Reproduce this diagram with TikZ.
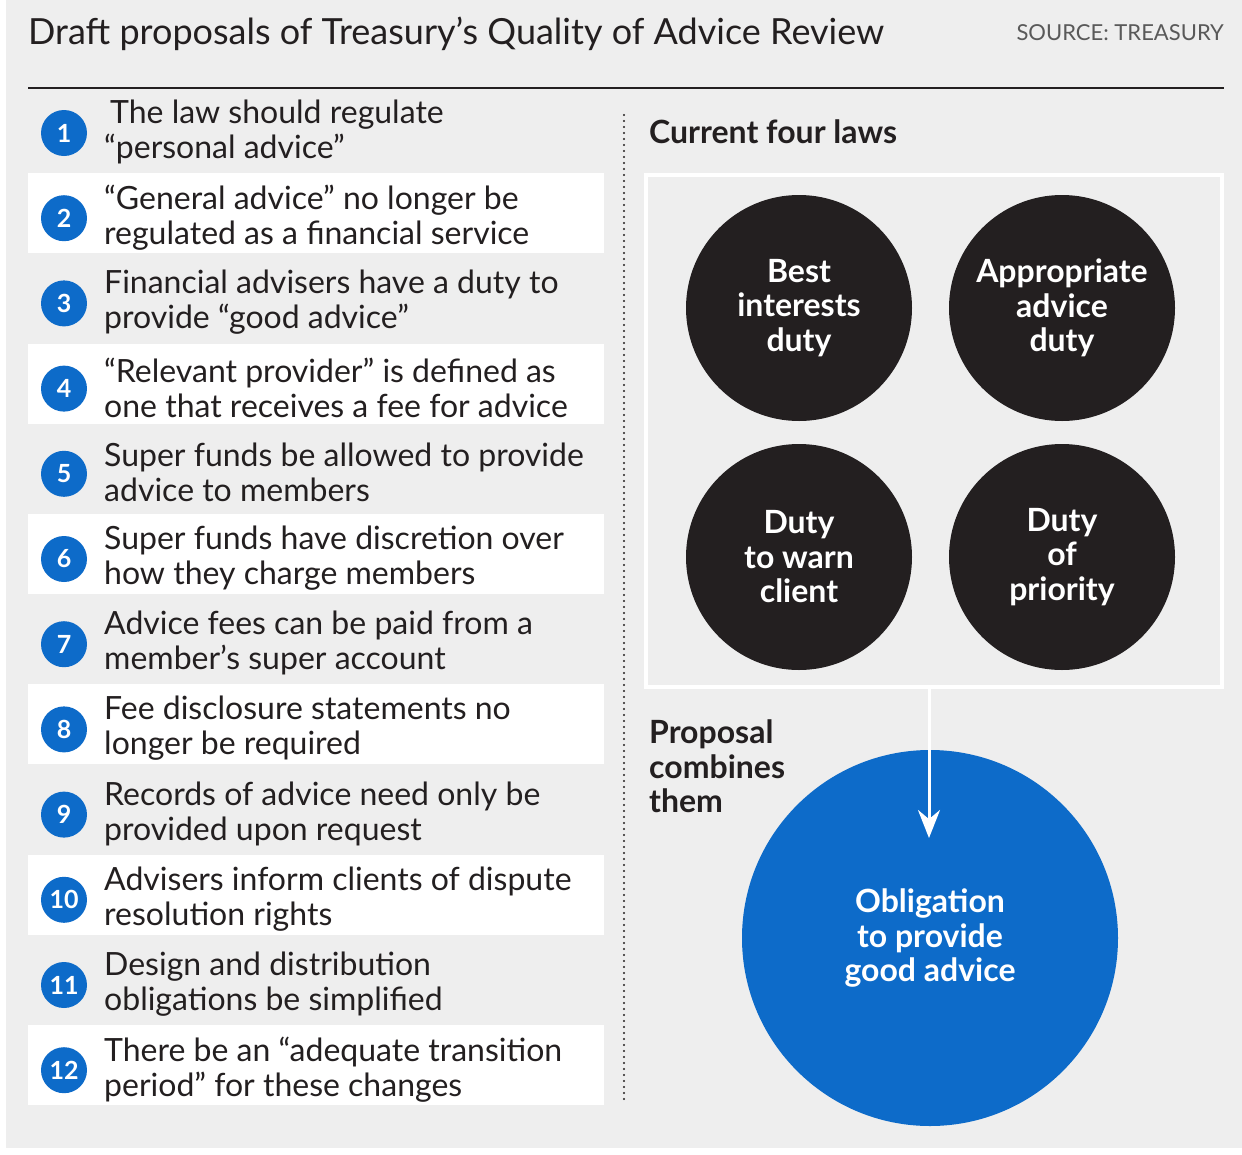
\documentclass[tikz,border=0pt]{standalone}
\usepackage{fontspec}
\setmainfont{Lato}
\usetikzlibrary{arrows.meta}
\definecolor{bg}{HTML}{EEEEEE}
\definecolor{blu}{HTML}{0D6BC9}
\definecolor{blk}{HTML}{231F20}
\tikzset{
 num/.style={circle,fill=blu,minimum size=46pt,inner sep=0pt,text=white,font=\fontsize{25}{25}\selectfont\bfseries},
 item/.style={anchor=west,align=left,inner sep=0pt,font=\fontsize{32}{35}\selectfont,text=blk},
 law/.style={circle,fill=blk,minimum size=226pt,inner sep=0pt,text=white,align=center,font=\fontsize{32}{34.5}\selectfont\bfseries},
 head/.style={anchor=west,align=left,inner sep=0pt,font=\fontsize{32}{34.5}\selectfont\bfseries,text=blk},
}
\begin{document}
\begin{tikzpicture}[x=1pt,y=-1pt]
\useasboundingbox (0,0) rectangle (1242,1154);
\fill[white] (0,0) rectangle (1242,1154);
\fill[bg] (6,0) rectangle (1242,1148);
\node[anchor=west,inner sep=0pt,font=\fontsize{36}{36}\selectfont,text=blk] (title) at (28,34) {Draft proposals of Treasury's Quality of Advice Review};
\node[anchor=east,inner sep=0pt,font=\fontsize{22}{22}\selectfont,text=black!65] (src) at (1224,33) {SOURCE: TREASURY};
\draw[line width=2pt,blk] (28,88) -- (1224,88);
\foreach \i/\t in {1/{\hspace*{6pt}The law should regulate\\“personal advice”},
 2/{“General advice” no longer be\\regulated as a financial service},
 3/{Financial advisers have a duty to\\provide “good advice”},
 4/{“Relevant provider” is defined as\\one that receives a fee for advice},
 5/{Super funds be allowed to provide\\advice to members},
 6/{Super funds have discretion over\\how they charge members},
 7/{Advice fees can be paid from a\\member's super account},
 8/{Fee disclosure statements no\\longer be required},
 9/{Records of advice need only be\\provided upon request},
 10/{Advisers inform clients of dispute\\resolution rights},
 11/{Design and distribution\\obligations be simplified},
 12/{There be an “adequate transition\\period” for these changes}}{
 \pgfmathsetmacro\yy{128+85.2*(\i-1)}
 \pgfmathtruncatemacro\ev{mod(\i,2)}
 \ifnum\ev=0 \fill[white] (28,\yy-40) rectangle (604,\yy+40);\fi
 \node[num] (n\i) at (64,\yy+5) {\i};
 \node[item] (t\i) at (104,\yy+4) {\t};
}
\draw[line width=2.2pt,dash pattern=on 0pt off 6pt,line cap=round,blk] (624,115) -- (624,1100);
\node[head] (cur) at (649,132) {Current four laws};
\draw[white,line width=4pt] (646,175) rectangle (1222,687);
\node[law] (a) at (799,308) {Best\\interests\\duty};
\node[law] (b) at (1062,308) {Appropriate\\advice\\duty};
\node[law] (c) at (799,557) {Duty\\to warn\\client};
\node[law] (d) at (1062,557) {Duty\\of\\priority};
\node[head,anchor=north west] (prop) at (649,720) {Proposal\\combines\\them};
\node[circle,fill=blu,minimum size=376pt,inner sep=0pt,text=white,align=center,font=\fontsize{32}{34.5}\selectfont\bfseries] (ob) at (930,938) {Obligation\\to provide\\good advice};
\coordinate (top) at (929,689);
\coordinate (tip) at (929,838);
\draw[white,line width=3pt,-{Stealth[length=28pt,width=22pt]}] (top) -- (tip);
\end{tikzpicture}
\end{document}
